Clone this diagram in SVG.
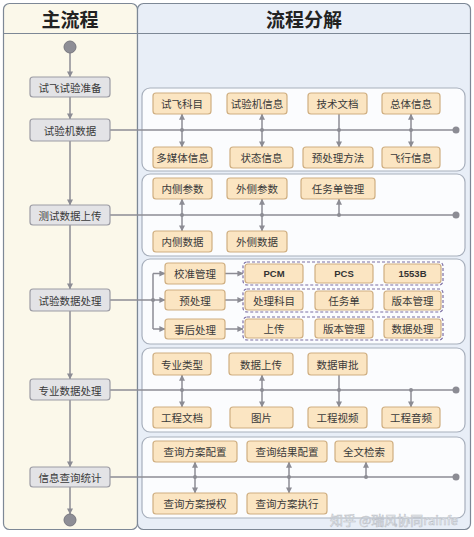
<svg xmlns="http://www.w3.org/2000/svg" width="474" height="537" viewBox="0 0 474 537">
<defs>
<style>
.t{font-family:"Noto Sans CJK SC","Noto Sans",sans-serif;font-size:10.5px;fill:#3a3a3a;text-anchor:middle;dominant-baseline:central}
.h{font-family:"Noto Sans CJK SC","Noto Sans",sans-serif;font-size:19px;font-weight:bold;fill:#222;text-anchor:middle;dominant-baseline:central}
.b{font-family:"Liberation Sans","Noto Sans",sans-serif;font-size:9.5px;font-weight:bold;fill:#333;text-anchor:middle;dominant-baseline:central}
.m rect{fill:#e3e3e6;stroke:#9c9ca4;stroke-width:1.2}
.o rect{fill:#fbe5c2;stroke:#cfae80;stroke-width:1.2}
.g{fill:none;stroke:#7d6fa3;stroke-width:1.2;stroke-dasharray:3 2}
.p{fill:#fbfcfe;stroke:#a7afbc;stroke-width:1.2}
.c line,.c path{stroke:#8c8c94;stroke-width:1.5;fill:none}
.a{marker-end:url(#ar)}
.aa{marker-end:url(#ar);marker-start:url(#ar)}
.d{fill:#8c8c94}
</style>
<marker id="ar" viewBox="0 0 8 8" refX="7.5" refY="4" markerWidth="6" markerHeight="6" markerUnits="userSpaceOnUse" orient="auto-start-reverse"><path d="M0,0 L8,4 L0,8 z" fill="#8c8c94"/></marker>
</defs>
<rect x="0" y="0" width="474" height="537" fill="#ffffff"/>
<g id="frame">
<rect x="3.5" y="3.5" width="134" height="526" rx="6" fill="#fbf8ea" stroke="#7d8896" stroke-width="1.2"/>
<rect x="137.5" y="3.5" width="333" height="526" rx="6" fill="#e8eef7" stroke="#7d8896" stroke-width="1.2"/>
<line x1="3.5" y1="33.5" x2="470.5" y2="33.5" stroke="#7d8896" stroke-width="1.2"/>
<text class="h" x="70" y="18">主流程</text>
<text class="h" x="304" y="18">流程分解</text>
</g>
<g id="panels">
<rect class="p" x="142" y="88" width="323" height="83" rx="8"/>
<rect class="p" x="142" y="174" width="323" height="82" rx="8"/>
<rect class="p" x="142" y="259" width="323" height="85" rx="8"/>
<rect class="p" x="142" y="348" width="323" height="84" rx="8"/>
<rect class="p" x="142" y="437" width="323" height="81" rx="8"/>
</g>
<g id="connectors" class="c">
<line class="a" x1="70" y1="53" x2="70" y2="77"/>
<line class="a" x1="70" y1="97" x2="70" y2="119"/>
<line class="a" x1="70" y1="141" x2="70" y2="205"/>
<line class="a" x1="70" y1="225" x2="70" y2="289"/>
<line class="a" x1="70" y1="311" x2="70" y2="379"/>
<line class="a" x1="70" y1="400" x2="70" y2="467"/>
<line class="a" x1="70" y1="487" x2="70" y2="514"/>
<line x1="110" y1="130" x2="456" y2="130"/>
<line class="aa" x1="182" y1="114" x2="182" y2="147"/>
<line class="aa" x1="262" y1="114" x2="262" y2="147"/>
<line class="a" x1="339" y1="114" x2="339" y2="147"/>
<line class="aa" x1="411" y1="114" x2="411" y2="147"/>
<line x1="110" y1="215" x2="456" y2="215"/>
<line class="aa" x1="182" y1="199" x2="182" y2="231"/>
<line class="aa" x1="262" y1="199" x2="262" y2="231"/>
<line class="a" x1="339" y1="215" x2="339" y2="199"/>
<line x1="110" y1="300" x2="153" y2="300"/>
<line x1="153" y1="273.5" x2="153" y2="329"/>
<line class="a" x1="153" y1="273.5" x2="165" y2="273.5"/>
<line class="a" x1="153" y1="300" x2="165" y2="300"/>
<line class="a" x1="153" y1="329" x2="165" y2="329"/>
<line class="a" x1="225" y1="273.5" x2="243" y2="273.5"/>
<line class="a" x1="225" y1="300" x2="243" y2="300"/>
<line class="a" x1="225" y1="329" x2="243" y2="329"/>
<line x1="110" y1="390" x2="456" y2="390"/>
<line class="aa" x1="182" y1="375" x2="182" y2="407"/>
<line class="aa" x1="262" y1="375" x2="262" y2="407"/>
<line class="a" x1="339" y1="375" x2="339" y2="407"/>
<line class="a" x1="411" y1="390" x2="411" y2="407"/>
<line x1="110" y1="477" x2="456" y2="477"/>
<line class="aa" x1="195" y1="462" x2="195" y2="493"/>
<line class="aa" x1="289" y1="462" x2="289" y2="493"/>
<line class="a" x1="366" y1="477" x2="366" y2="462"/>
<circle class="d" cx="456" cy="130" r="3.5"/>
<circle class="d" cx="456" cy="215" r="3.5"/>
<circle class="d" cx="456" cy="390" r="3.5"/>
<circle class="d" cx="456" cy="477" r="3.5"/>
<circle class="d" cx="182" cy="130" r="2"/>
<circle class="d" cx="262" cy="130" r="2"/>
<circle class="d" cx="339" cy="130" r="2"/>
<circle class="d" cx="411" cy="130" r="2"/>
<circle class="d" cx="182" cy="215" r="2"/>
<circle class="d" cx="262" cy="215" r="2"/>
<circle class="d" cx="339" cy="215" r="2"/>
<circle class="d" cx="153" cy="300" r="2"/>
<circle class="d" cx="182" cy="390" r="2"/>
<circle class="d" cx="262" cy="390" r="2"/>
<circle class="d" cx="339" cy="390" r="2"/>
<circle class="d" cx="411" cy="390" r="2"/>
<circle class="d" cx="195" cy="477" r="2"/>
<circle class="d" cx="289" cy="477" r="2"/>
<circle class="d" cx="366" cy="477" r="2"/>
</g>
<g id="start"><circle cx="70" cy="47" r="6" fill="#8e8e96" stroke="#77777f"/></g>
<g id="end"><circle cx="70" cy="520" r="6" fill="#8e8e96" stroke="#77777f"/></g>
<g id="m1" class="m"><rect x="30" y="77" width="80" height="20" rx="3"/><text class="t" x="70" y="87">试飞试验准备</text></g>
<g id="m2" class="m"><rect x="30" y="119" width="80" height="22" rx="3"/><text class="t" x="70" y="130">试验机数据</text></g>
<g id="m3" class="m"><rect x="30" y="205" width="80" height="20" rx="3"/><text class="t" x="70" y="215">测试数据上传</text></g>
<g id="m4" class="m"><rect x="30" y="289" width="80" height="22" rx="3"/><text class="t" x="70" y="300">试验数据处理</text></g>
<g id="m5" class="m"><rect x="30" y="379" width="80" height="21" rx="3"/><text class="t" x="70" y="390">专业数据处理</text></g>
<g id="m6" class="m"><rect x="30" y="467" width="80" height="20" rx="3"/><text class="t" x="70" y="477">信息查询统计</text></g>
<g id="s1a" class="o"><rect x="153" y="93" width="58" height="21" rx="3"/><text class="t" x="182" y="103.5">试飞科目</text></g>
<g id="s1b" class="o"><rect x="227" y="93" width="60" height="21" rx="3"/><text class="t" x="257" y="103.5">试验机信息</text></g>
<g id="s1c" class="o"><rect x="308" y="93" width="59" height="21" rx="3"/><text class="t" x="337.5" y="103.5">技术文档</text></g>
<g id="s1d" class="o"><rect x="382" y="93" width="58" height="21" rx="3"/><text class="t" x="411" y="103.5">总体信息</text></g>
<g id="s1e" class="o"><rect x="153" y="147" width="59" height="21" rx="3"/><text class="t" x="182.5" y="157.5">多媒体信息</text></g>
<g id="s1f" class="o"><rect x="230" y="147" width="63" height="21" rx="3"/><text class="t" x="261.5" y="157.5">状态信息</text></g>
<g id="s1g" class="o"><rect x="303" y="147" width="70" height="21" rx="3"/><text class="t" x="338" y="157.5">预处理方法</text></g>
<g id="s1h" class="o"><rect x="382" y="147" width="58" height="21" rx="3"/><text class="t" x="411" y="157.5">飞行信息</text></g>
<g id="s2a" class="o"><rect x="153" y="178" width="59" height="21" rx="3"/><text class="t" x="182.5" y="188.5">内侧参数</text></g>
<g id="s2b" class="o"><rect x="227" y="178" width="60" height="21" rx="3"/><text class="t" x="257" y="188.5">外侧参数</text></g>
<g id="s2c" class="o"><rect x="301" y="178" width="74" height="21" rx="3"/><text class="t" x="338" y="188.5">任务单管理</text></g>
<g id="s2d" class="o"><rect x="153" y="231" width="59" height="21" rx="3"/><text class="t" x="182.5" y="241.5">内侧数据</text></g>
<g id="s2e" class="o"><rect x="227" y="231" width="60" height="21" rx="3"/><text class="t" x="257" y="241.5">外侧数据</text></g>
<g id="s3a" class="o"><rect x="165" y="263" width="60" height="21" rx="3"/><text class="t" x="195" y="273.5">校准管理</text></g>
<g id="s3b" class="o"><rect x="165" y="290" width="60" height="20" rx="3"/><text class="t" x="195" y="300">预处理</text></g>
<g id="s3c" class="o"><rect x="165" y="319" width="60" height="20" rx="3"/><text class="t" x="195" y="329">事后处理</text></g>
<g id="grp1"><rect class="g" x="243" y="262" width="200" height="23" rx="4"/></g>
<g id="grp2"><rect class="g" x="243" y="289" width="200" height="23" rx="4"/></g>
<g id="grp3"><rect class="g" x="243" y="317" width="200" height="23" rx="4"/></g>
<g id="g1a" class="o"><rect x="245" y="264" width="58" height="19" rx="3"/><text class="b" x="274" y="273.5">PCM</text></g>
<g id="g1b" class="o"><rect x="315" y="264" width="58" height="19" rx="3"/><text class="b" x="344" y="273.5">PCS</text></g>
<g id="g1c" class="o"><rect x="384" y="264" width="57" height="19" rx="3"/><text class="b" x="412.5" y="273.5">1553B</text></g>
<g id="g2a" class="o"><rect x="245" y="291" width="58" height="19" rx="3"/><text class="t" x="274" y="300.5">处理科目</text></g>
<g id="g2b" class="o"><rect x="315" y="291" width="58" height="19" rx="3"/><text class="t" x="344" y="300.5">任务单</text></g>
<g id="g2c" class="o"><rect x="384" y="291" width="57" height="19" rx="3"/><text class="t" x="412.5" y="300.5">版本管理</text></g>
<g id="g3a" class="o"><rect x="245" y="319" width="58" height="19" rx="3"/><text class="t" x="274" y="328.5">上传</text></g>
<g id="g3b" class="o"><rect x="315" y="319" width="58" height="19" rx="3"/><text class="t" x="344" y="328.5">版本管理</text></g>
<g id="g3c" class="o"><rect x="384" y="319" width="57" height="19" rx="3"/><text class="t" x="412.5" y="328.5">数据处理</text></g>
<g id="s4a" class="o"><rect x="153" y="353" width="58" height="22" rx="3"/><text class="t" x="182" y="364">专业类型</text></g>
<g id="s4b" class="o"><rect x="229" y="353" width="64" height="22" rx="3"/><text class="t" x="261" y="364">数据上传</text></g>
<g id="s4c" class="o"><rect x="308" y="353" width="59" height="22" rx="3"/><text class="t" x="337.5" y="364">数据审批</text></g>
<g id="s4d" class="o"><rect x="153" y="407" width="58" height="21" rx="3"/><text class="t" x="182" y="417.5">工程文档</text></g>
<g id="s4e" class="o"><rect x="230" y="407" width="63" height="21" rx="3"/><text class="t" x="261.5" y="417.5">图片</text></g>
<g id="s4f" class="o"><rect x="308" y="407" width="59" height="21" rx="3"/><text class="t" x="337.5" y="417.5">工程视频</text></g>
<g id="s4g" class="o"><rect x="382" y="407" width="58" height="21" rx="3"/><text class="t" x="411" y="417.5">工程音频</text></g>
<g id="s5a" class="o"><rect x="153" y="441" width="84" height="21" rx="3"/><text class="t" x="195" y="451.5">查询方案配置</text></g>
<g id="s5b" class="o"><rect x="247" y="441" width="80" height="21" rx="3"/><text class="t" x="287" y="451.5">查询结果配置</text></g>
<g id="s5c" class="o"><rect x="335" y="441" width="58" height="21" rx="3"/><text class="t" x="364" y="451.5">全文检索</text></g>
<g id="s5d" class="o"><rect x="153" y="493" width="84" height="21" rx="3"/><text class="t" x="195" y="503.5">查询方案授权</text></g>
<g id="s5e" class="o"><rect x="247" y="493" width="80" height="21" rx="3"/><text class="t" x="287" y="503.5">查询方案执行</text></g>
<text x="394" y="519" font-family="Noto Sans CJK SC,Noto Sans,sans-serif" font-size="13" fill="#ffffff" stroke="#b8bcc4" stroke-width="0.6" text-anchor="middle" dominant-baseline="central" opacity="0.9">知乎 @瑞风协同rainfe</text>
</svg>
